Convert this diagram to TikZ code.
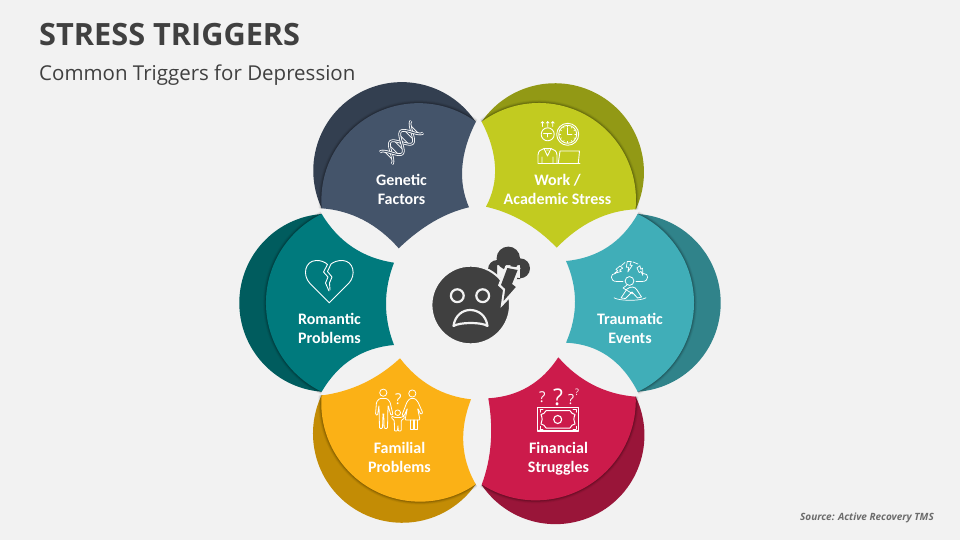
\documentclass[tikz,border=0pt]{standalone}
\usepackage{fontspec}
\usetikzlibrary{calc}
\setmainfont{Open Sans}
\newfontfamily\lblfont{Carlito}
\definecolor{pagebg}{HTML}{F2F2F2}
\definecolor{ink}{HTML}{404040}
\definecolor{gb}{HTML}{333F50}\definecolor{gf}{HTML}{44546A}
\definecolor{wb}{HTML}{929915}\definecolor{wf}{HTML}{C2CB20}
\definecolor{rb}{HTML}{005C5E}\definecolor{rf}{HTML}{007A7D}
\definecolor{tb}{HTML}{30838A}\definecolor{tf}{HTML}{40AEB8}
\definecolor{fb}{HTML}{C38C05}\definecolor{ff}{HTML}{FBB116}
\definecolor{mb}{HTML}{991539}\definecolor{mf}{HTML}{CC1B4B}
\newcommand\ed[3]{.. controls ($4/3*(#2)-1/3*(#3)$) and ($4/3*(#2)-1/3*(#1)$) .. (#3)}
\newcommand\backarc[5]{\fill[#1] (#2) arc[start angle=#3,end angle=#4,radius=#5] -- cycle;}
\newcommand\pshade[4]{\foreach \w/\o in {6/.04,4.5/.06,3/.09,1.6/.12}{\draw[line width=\w pt,black,opacity=\o] (#1) arc[start angle=#2,end angle=#3,radius=#4];}}
\tikzset{
  lbl/.style={text=white,align=center,font=\lblfont\bfseries\fontsize{16}{19}\selectfont,inner sep=0pt},
  ic/.style={draw=white,line width=.9pt,line cap=round,line join=round},
  qm/.style={text=white,inner sep=0pt,font=\fontsize{#1}{#1}\selectfont},
}
\newcommand\zbolt[3]{\begin{scope}[shift={(#1)},rotate=#2,scale=#3]\draw[ic,line width=.7pt] (-2,-5)--(2,-5)--(.6,-1.2)--(3,-1.2)--(-1.5,5.5)--(-.5,.8)--(-3,.8)--cycle;\end{scope}}
\begin{document}
\begin{tikzpicture}[x=1pt,y=-1pt]
\useasboundingbox (0,0) rectangle (960,540);
\fill[pagebg] (0,0) rectangle (960,540);
\node[anchor=base west,inner sep=0pt,text=ink,font=\bfseries\fontsize{30.7}{36}\selectfont] (title) at (39,46) {STRESS TRIGGERS};
\node[anchor=base west,inner sep=0pt,text=ink,font=\fontsize{20.5}{24}\selectfont] (subtitle) at (39,81) {Common Triggers for Depression};
\node[anchor=base east,inner sep=0pt,text=gray!85!black,font=\bfseries\itshape\fontsize{10}{12}\selectfont] (source) at (934,520) {Source: Active Recovery TMS};

% Genetic
\backarc{gb}{321.7,208.3}{154.8}{326.5}{88.5}
\pshade{321.7,208.3}{175.3}{306.1}{97.2}
\fill[gf] (321.7,208.3) arc[start angle=175.3,end angle=306.1,radius=97.2]
  \ed{475.7,121.7}{462.3,166.7}{469,207.3} \ed{469,207.3}{433.3,221.7}{398.7,248.3} \ed{398.7,248.3}{363.3,220}{321.7,208.3} -- cycle;
% Work
\backarc{wb}{481.7,121.7}{214.6}{384.6}{89}
\pshade{481.7,121.7}{233.8}{365.5}{97}
\fill[wf] (481.7,121.7) arc[start angle=233.8,end angle=365.5,radius=97]
  \ed{635.7,209.3}{594,220}{556.7,247.7} \ed{556.7,247.7}{524,221.7}{486,206.7} \ed{486,206.7}{495,166.7}{481.7,121.7} -- cycle;
% Romantic
\backarc{rb}{321.7,391.7}{94.3}{265.7}{89.1}
\pshade{321.7,391.7}{115.8}{244.2}{98.7}
\fill[rf] (321.7,391.7) arc[start angle=115.8,end angle=244.2,radius=98.7]
  \ed{321.7,214}{352.3,247}{394,262.7} \ed{394,262.7}{386,303.85}{394,345} \ed{394,345}{352.3,358.7}{321.7,391.7} -- cycle;
% Traumatic
\backarc{tb}{637.7,214}{-86.1}{86.1}{89.05}
\pshade{637.7,214}{-64.7}{64.7}{98.3}
\fill[tf] (637.7,214) arc[start angle=-64.7,end angle=64.7,radius=98.3]
  \ed{637.7,391.7}{607.7,356}{566,342.7} \ed{566,342.7}{575,301.7}{566,261} \ed{566,261}{607.7,247}{637.7,214} -- cycle;
% Familial
\backarc{fb}{475.7,484.3}{34.7}{205.6}{89.3}
\pshade{475.7,484.3}{55.5}{184.4}{98.6}
\fill[ff] (475.7,484.3) arc[start angle=55.5,end angle=184.4,radius=98.6]
  \ed{321.7,395}{363.3,383.3}{400,358.3} \ed{400,358.3}{431.7,386.7}{471,399.3} \ed{471,399.3}{463.3,443.3}{475.7,484.3} -- cycle;
% Financial
\backarc{mb}{635.7,396.7}{-25.6}{145.9}{89}
\pshade{635.7,396.7}{-2.1}{122.7}{100}
\fill[mf] (635.7,396.7) arc[start angle=-2.1,end angle=122.7,radius=100]
  \ed{481.7,485}{490.7,443.3}{488.3,398.3} \ed{488.3,398.3}{528.3,386.7}{558.3,357.3} \ed{558.3,357.3}{593.3,385}{635.7,396.7} -- cycle;

% Labels
\node[lbl] (genetic) at (401.5,191.3) {Genetic\strut\\Factors\strut};
\node[lbl] (work) at (557.5,191.3) {Work /\strut\\Academic Stress\strut};
\node[lbl] (romantic) at (329.5,330.3) {Romantic\strut\\Problems\strut};
\node[lbl] (traumatic) at (630,330.3) {Traumatic\strut\\Events\strut};
\node[lbl] (familial) at (399.5,459.3) {Familial\strut\\Problems\strut};
\node[lbl] (financial) at (558.5,459.3) {Financial\strut\\Struggles\strut};

% Centre icon
\fill[ink] (508.3,258.3) circle (11.7) (497.3,269.3) circle (9.3) (520,268.3) circle (10) (497,265) rectangle (520,279);
\fill[ink,draw=pagebg,line width=2pt] (470.7,305) circle (39.3);
\draw[pagebg,line width=2.2pt] (457.3,295.7) circle (6.4) (482.7,295.7) circle (6.4);
\draw[pagebg,line width=2.2pt,line join=round] (453.5,326) .. controls (455,315) and (463,310) .. (470,310) .. controls (478,310) and (486,315) .. (487.5,326) .. controls (482,322) and (460,322) .. (453.5,326) -- cycle;
\fill[pagebg] (505.5,265.5) -- (520.5,268) -- (515.5,282.5) -- (520,287) -- (500.5,308) -- (503,290) -- (498,285.5) -- cycle;
\fill[ink] (507.3,268) -- (517.6,270) -- (512,284) -- (515.8,287) -- (503.5,301) -- (505.3,289) -- (501,285) -- cycle;

% DNA
\begin{scope}[shift={(401.5,142.5)},rotate=45]
\foreach \k in {-18.5,-14.5,-10.5,-4,0,4,10.5,14.5,18.5}{\draw[ic,line width=.7pt] (\k,{8.5*sin(\k*12.3)}) -- (\k,{-8.5*sin(\k*12.3)});}
\draw[draw=white,double=gf,line width=.8pt,double distance=1.1pt] plot[domain=-22:22,samples=50,smooth] (\x,{8.5*sin(\x*12.3)});
\draw[draw=white,double=gf,line width=.8pt,double distance=1.1pt] plot[domain=-22:22,samples=50,smooth] (\x,{-8.5*sin(\x*12.3)});
\end{scope}

% Work icon
\draw[ic] (547.7,134.3) circle (6.5) (567.7,134.3) circle (11) (567.7,134.3) circle (9);
\foreach \a in {0,30,...,330}{\draw[ic,line width=.6pt] ($(567.7,134.3)+(\a:7)$) -- ($(567.7,134.3)+(\a:8.3)$);}
\draw[ic] (567.7,128) -- (567.7,134.5) -- (572,134.5);
\draw[ic] (543.5,133.5) -- (551.5,133.5) (547.5,133.5) -- (547.5,137);
\foreach \p in {542.5,547.7,552.8}{\draw[ic,line width=.7pt] (\p,126.5) -- (\p,121.5) (\p-1.5,123.2) -- (\p,121.5) -- (\p+1.5,123.2);}
\draw[ic] (538,163) -- (538,155) .. controls (538,151) and (541,149.5) .. (544,148.5) -- (551,148.5) .. controls (554,149.5) and (557,151) .. (557,155) -- (557,163);
\draw[ic] (580,163) -- (538,163);
\draw[ic] (544,148.5) -- (547.5,156) -- (551,148.5) (546.5,150) -- (548.5,150) (542,163) -- (542,157) (553,163) -- (553,157);
\draw[ic] (558.3,163) -- (560,151) -- (579.5,151) -- (578.3,163);

% Heart
\draw[ic] (329.3,302.7) -- (310,283.5) .. controls (302,275) and (305,261) .. (316,260.5) .. controls (321,260.3) and (325,262) .. (327.5,264.5) -- (323.5,272) -- (328,277) -- (325.5,283) -- (329,291);
\draw[ic] (329.3,302.7) -- (348.6,283.5) .. controls (356.6,275) and (353.6,261) .. (342.6,260.5) .. controls (337.6,260.3) and (333.6,262) .. (331,264) -- (327.5,271.5) -- (332,277) -- (329.5,283) -- (330,290);

% Traumatic icon
\draw[ic,line width=.8pt] (629.5,281) circle (4.4);
\draw[ic,line width=.8pt] (621,298) -- (627,289) .. controls (631,286) and (635,286.5) .. (637,290) -- (641.5,297) -- (637.5,298) -- (632,292) -- (625.5,298.5) -- cycle;
\draw[ic,line width=.7pt] (623,288) -- (633,294) (623,288) -- (627,285);
\draw[ic,line width=.7pt] (646,297.8) arc[start angle=20,end angle=160,x radius=17,y radius=3.8];
\draw[ic,line width=.7pt] (616.7,281.5) .. controls (609.5,281.5) and (610,273) .. (615.5,273.5);
\draw[ic,line width=.7pt] (642.3,281.5) .. controls (649.5,281.5) and (649,273) .. (643.5,273.5);
\draw[ic,line width=.7pt] (616.7,281.5) -- (623,281.5) (642.3,281.5) -- (636,281.5) (621.5,265.5) -- (625,262.5) (633,262) -- (638,264);
\zbolt{618.5,270.5}{-40}{.9}
\zbolt{629.3,266.5}{0}{1}
\zbolt{641,270.5}{35}{.9}

% Family icon
\draw[ic,line width=.8pt] (383.3,392.7) circle (3.6) (412.3,393.5) circle (3.6) (397.7,412.7) circle (2.8);
\draw[ic,line width=.8pt,rounded corners=1pt] (379.5,398.5) -- (387,398.5) -- (390,402) -- (393,414.5) -- (391,415.5) -- (388,405) -- (387.5,428.5) -- (384.2,428.5) -- (383.7,414) -- (383,414) -- (382.5,428.5) -- (379.5,428.5) -- (379,405) -- (377.5,415.5) -- (375.5,414.5) -- (376.5,402) -- cycle;
\draw[ic,line width=.8pt,rounded corners=1pt] (410,398.5) -- (415,398.5) -- (418,402) -- (422.8,413) -- (421,414.5) -- (417.5,408) -- (420,420) -- (405,420) -- (407.5,408) -- (404,416) -- (402,415) -- (407,402) -- cycle;
\draw[ic,line width=.8pt] (410,420) -- (410,429) -- (413,429) -- (413,420) (414.3,420) -- (414.3,429) -- (417.3,429) -- (417.3,420);
\draw[ic,line width=.8pt,rounded corners=.8pt] (392,416) -- (394.5,417.5) -- (401,417.5) -- (404,416) -- (404.5,418) -- (401.2,420.5) -- (401.2,431) -- (398.2,431) -- (398,425) -- (397.4,431) -- (394.5,431) -- (394.3,420.5) -- (391.5,418) -- cycle;
\node[qm=15] (q1) at (398.3,399) {?};

% Money icon
\draw[ic,line width=1.1pt] (537.7,407.3) rectangle (578.3,431);
\draw[ic,line width=1pt] (546,410.7) -- (570,410.7) .. controls (571,413) and (573,414.3) .. (575,414.5) .. controls (573.5,418) and (573.5,421) .. (575,424) .. controls (573,424.2) and (571,425.5) .. (570,428) -- (546,428) .. controls (545,425.5) and (543,424.2) .. (541,424) .. controls (542.5,421) and (542.5,418) .. (541,414.5) .. controls (543,414.3) and (545,413) .. (546,410.7) -- cycle;
\draw[ic,line width=1.1pt] (557.7,419.5) circle (4);
\draw[ic,line width=.7pt] (540,409.5) -- (543,409.5) (540,409.5) -- (540,412.3) (576,409.5) -- (573,409.5) (576,409.5) -- (576,412.3) (540,429) -- (543,429) (540,429) -- (540,426.2) (576,429) -- (573,429) (576,429) -- (576,426.2);
\node[qm=15] (q2) at (542.3,397.5) {?};
\node[qm=23] (q3) at (558,397) {?};
\node[qm=14] (q4) at (571,400) {?};
\node[qm=9] (q5) at (577,392.3) {?};
\end{tikzpicture}
\end{document}
